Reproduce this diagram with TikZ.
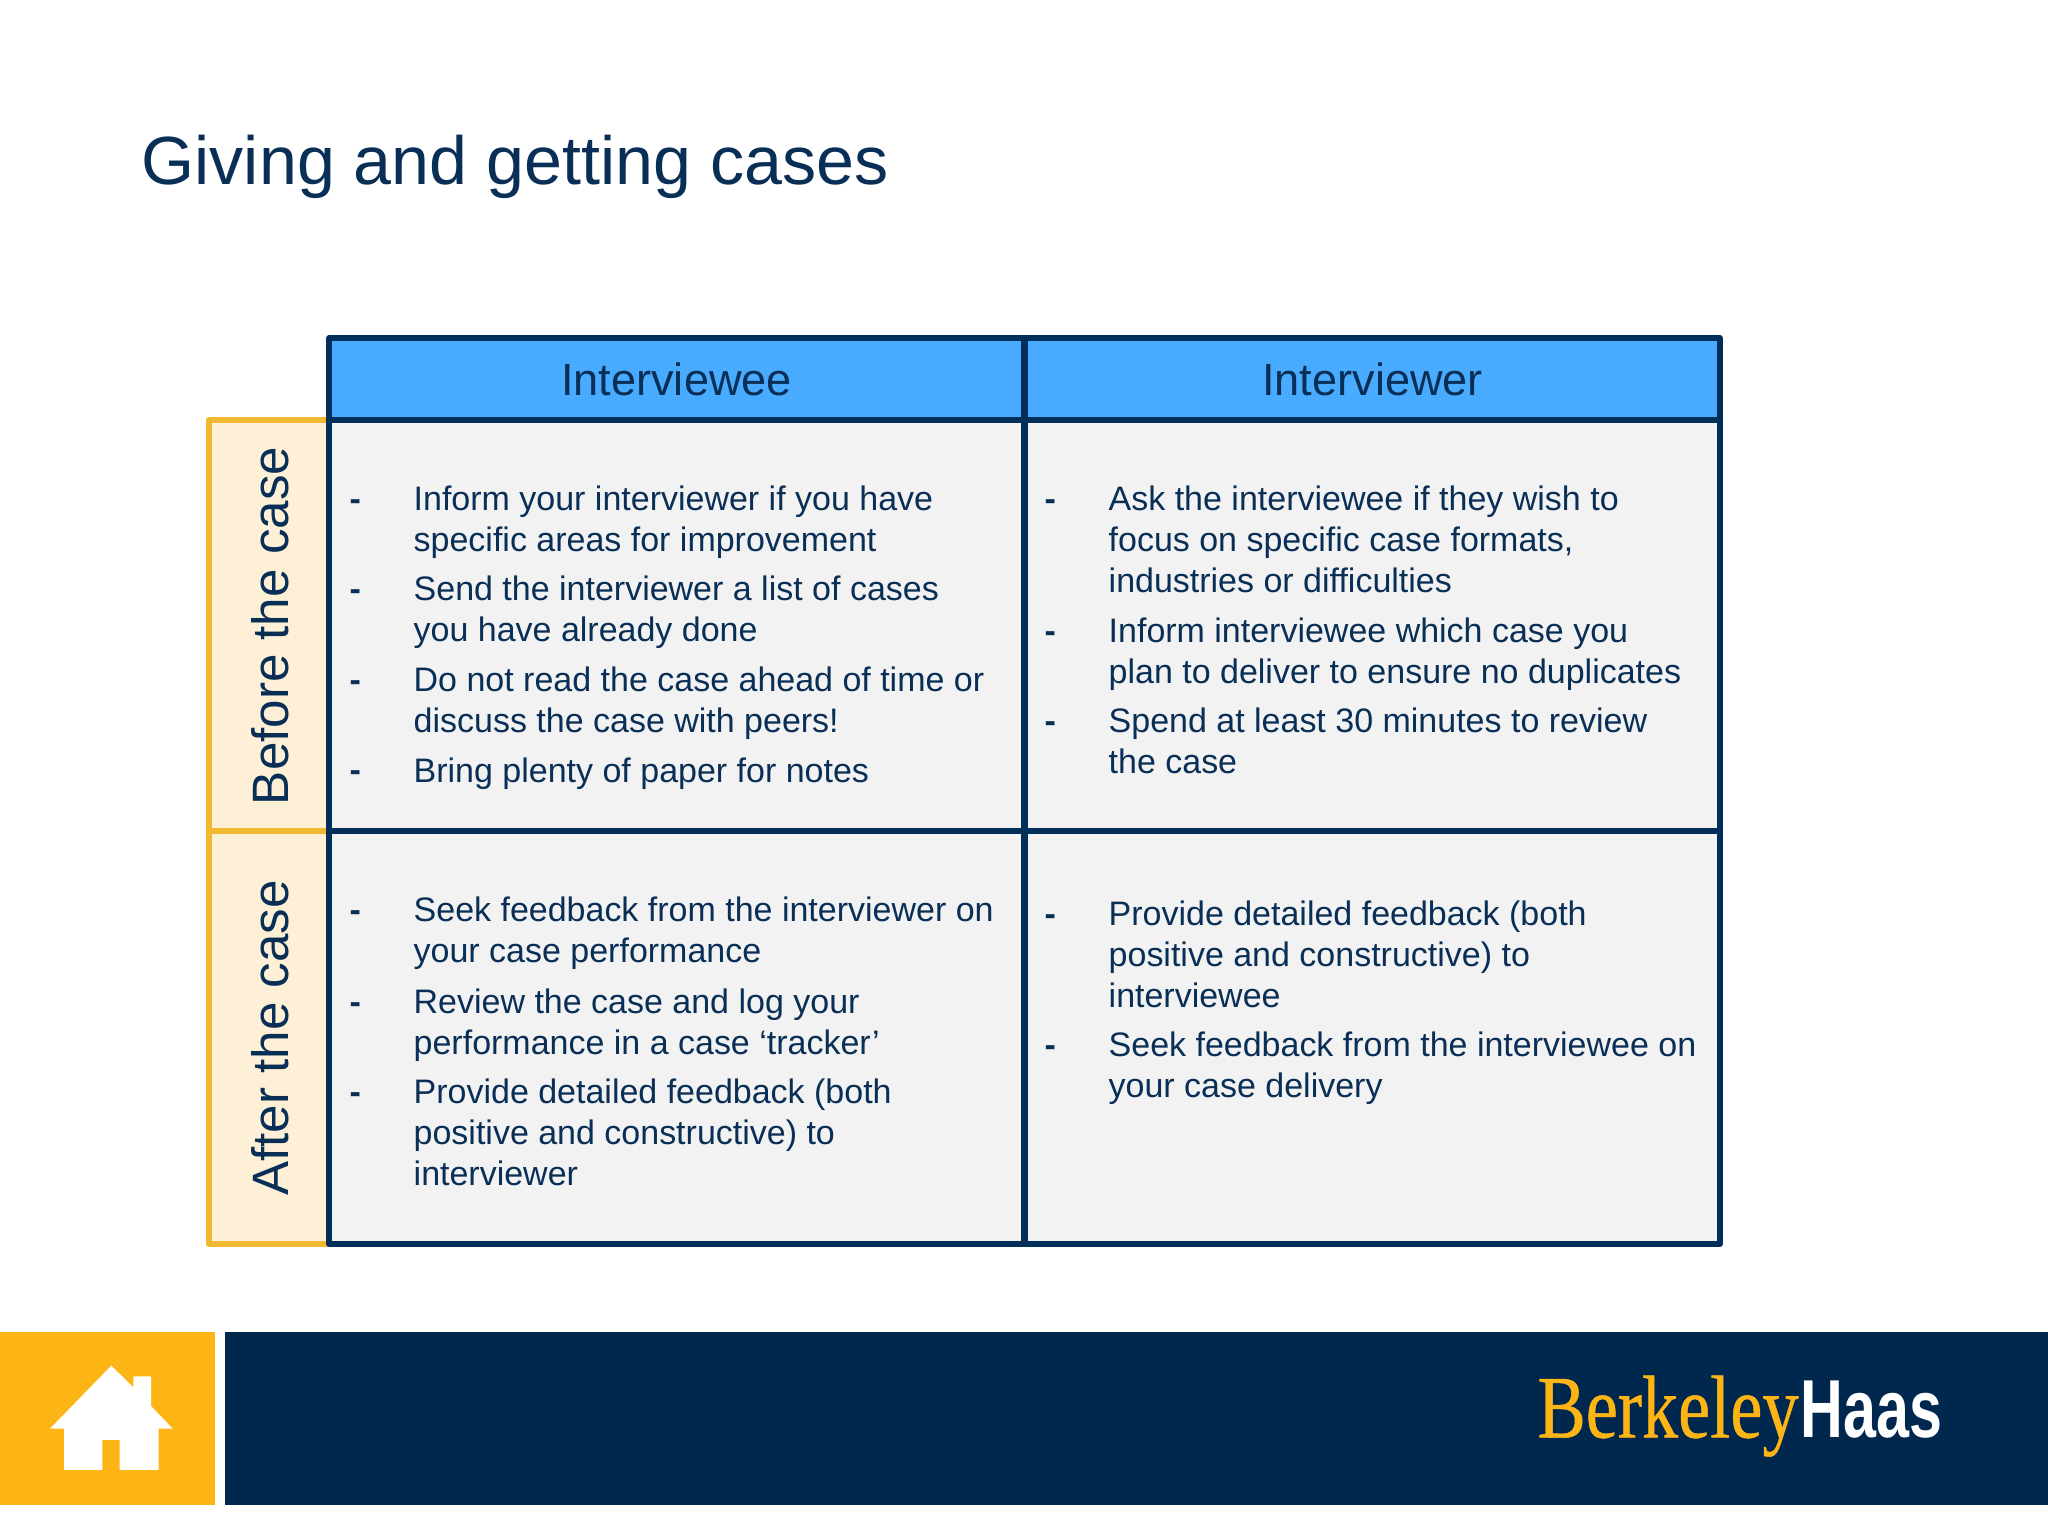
\documentclass[tikz,border=0pt]{standalone}
\usepackage{fontspec}
\setmainfont{Liberation Sans}
\newfontfamily\logoserif[FakeBold=0.6]{Liberation Serif}
\usetikzlibrary{positioning}
\definecolor{haasnavy}{RGB}{0,40,79}
\definecolor{inknavy}{RGB}{10,47,87}
\definecolor{linenavy}{RGB}{1,47,90}
\definecolor{headblue}{RGB}{72,171,255}
\definecolor{cellgrey}{RGB}{242,242,242}
\definecolor{sidecream}{RGB}{253,240,214}
\definecolor{sidegold}{RGB}{240,185,47}
\definecolor{homegold}{RGB}{253,181,21}
\definecolor{logogold}{RGB}{253,181,21}
\tikzset{
  headcell/.style={draw=linenavy,line width=0.055cm,line join=round,fill=headblue,text=inknavy,minimum width=6.95cm,minimum height=0.83cm,inner sep=0pt,font=\fontsize{12.85pt}{15pt}\selectfont},
  bodycell/.style={draw=linenavy,line width=0.055cm,line join=round,fill=cellgrey,minimum width=6.95cm,inner sep=0pt},
  sidecell/.style={draw=sidegold,line width=0.055cm,line join=round,fill=sidecream,minimum width=1.2cm,inner sep=0pt},
  sidetext/.style={text=inknavy,rotate=90,inner sep=0pt,font=\fontsize{14.55pt}{17pt}\selectfont},
  itemtext/.style={anchor=north west,align=left,inner sep=0pt,text=inknavy,font=\fontsize{9.67pt}{11.66pt}\selectfont,execute at begin node=\strut},
  dashtext/.style={itemtext,font=\bfseries\fontsize{9.67pt}{11.66pt}\selectfont},
}
\begin{document}
\begin{tikzpicture}
  \useasboundingbox (0,0) rectangle (20.48,15.36);

  % Title
  \node[anchor=base west,inner sep=0pt,text=inknavy,font=\fontsize{19.4pt}{23pt}\selectfont] (title) at (1.41,13.515) {Giving and getting cases};

  % Side labels
  \node[sidecell,minimum height=4.11cm] (sideA) at (2.69,9.105) {};
  \node[sidecell,minimum height=4.13cm] (sideB) at (2.69,4.985) {};
  \node[sidetext] (sideAtext) at (2.70,9.10) {Before the case};
  \node[sidetext] (sideBtext) at (2.70,4.98) {After the case};

  % Table cells
  \node[headcell] (headA) at (6.765,11.565) {Interviewee};
  \node[headcell] (headB) at (13.725,11.565) {Interviewer};
  \node[bodycell,minimum height=4.11cm] (cellAA) at (6.765,9.105) {};
  \node[bodycell,minimum height=4.11cm] (cellBA) at (13.725,9.105) {};
  \node[bodycell,minimum height=4.13cm] (cellAB) at (6.765,4.985) {};
  \node[bodycell,minimum height=4.13cm] (cellBB) at (13.725,4.985) {};

  % Interviewee, before
  \node[dashtext] (d1) at (3.49,10.55) {-};
  \node[itemtext] (i1) at (4.13,10.51) {Inform your interviewer if you have\\specific areas for improvement};
  \node[dashtext] (d2) at (3.49,9.65) {-};
  \node[itemtext] (i2) at (4.13,9.61) {Send the interviewer a list of cases\\you have already done};
  \node[dashtext] (d3) at (3.49,8.74) {-};
  \node[itemtext] (i3) at (4.13,8.70) {Do not read the case ahead of time or\\discuss the case with peers!};
  \node[dashtext] (d4) at (3.49,7.84) {-};
  \node[itemtext] (i4) at (4.13,7.83) {Bring plenty of paper for notes};

  % Interviewer, before
  \node[dashtext] (d5) at (10.44,10.55) {-};
  \node[itemtext] (i5) at (11.08,10.51) {Ask the interviewee if they wish to\\focus on specific case formats,\\industries or difficulties};
  \node[dashtext] (d6) at (10.44,9.23) {-};
  \node[itemtext] (i6) at (11.08,9.19) {Inform interviewee which case you\\plan to deliver to ensure no duplicates};
  \node[dashtext] (d7) at (10.44,8.33) {-};
  \node[itemtext] (i7) at (11.08,8.29) {Spend at least 30 minutes to review\\the case};

  % Interviewee, after
  \node[dashtext] (d8) at (3.49,6.44) {-};
  \node[itemtext] (i8) at (4.13,6.40) {Seek feedback from the interviewer on\\your case performance};
  \node[dashtext] (d9) at (3.49,5.52) {-};
  \node[itemtext] (i9) at (4.13,5.48) {Review the case and log your\\performance in a case ‘tracker’};
  \node[dashtext] (d10) at (3.49,4.62) {-};
  \node[itemtext] (i10) at (4.13,4.58) {Provide detailed feedback (both\\positive and constructive) to\\interviewer};

  % Interviewer, after
  \node[dashtext] (d11) at (10.44,6.40) {-};
  \node[itemtext] (i11) at (11.08,6.36) {Provide detailed feedback (both\\positive and constructive) to\\interviewee};
  \node[dashtext] (d12) at (10.44,5.09) {-};
  \node[itemtext] (i12) at (11.08,5.05) {Seek feedback from the interviewee on\\your case delivery};

  % Footer
  \fill[homegold] (0,0.31) rectangle (2.15,2.04);
  \fill[haasnavy] (2.25,0.31) rectangle (20.48,2.04);
  \fill[white] (1.113,1.703) -- (1.333,1.487) -- (1.333,1.597) -- (1.51,1.597) -- (1.51,1.30) -- (1.727,1.073) -- (1.587,1.073) -- (1.587,0.66) -- (1.197,0.66) -- (1.197,0.96) -- (1.023,0.96) -- (1.023,0.66) -- (0.64,0.66) -- (0.64,1.073) -- (0.5,1.073) -- cycle;

  % Logo
  \node[anchor=base west,inner sep=0pt,xscale=0.81,text=logogold,font=\logoserif\fontsize{25.4pt}{30pt}\selectfont] (logoA) at (15.37,0.985) {Berkeley};
  \node[anchor=base west,inner sep=0pt,xscale=0.72,text=white,font=\bfseries\fontsize{23.4pt}{28pt}\selectfont] (logoB) at (18.00,0.985) {Haas};
\end{tikzpicture}
\end{document}
